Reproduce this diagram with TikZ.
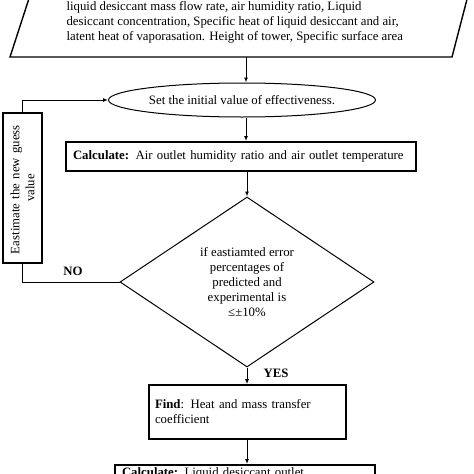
\documentclass[tikz,border=0pt]{standalone}
\usepackage{fontspec}
\setmainfont{Liberation Serif}
\usetikzlibrary{arrows.meta,calc,positioning,shapes.geometric}

\tikzset{
 flowline/.style={line width=1pt,-{Latex[length=5pt,width=4pt]}},
 plainline/.style={line width=1pt},
 thickbox/.style={draw,line width=2pt,inner sep=0pt},
 txt/.style={font=\fontsize{12.8}{15}\selectfont}
}

\begin{document}
\begin{tikzpicture}[x=1pt,y=-1pt]
 \useasboundingbox(0,0)rectangle(474,474);
 % input data (cut at the top)
 \draw[line width=1.4pt](35,-20)--(10,57)--(452,57)--(472,-20);
 \node[txt,align=left,anchor=west](inputs)at(63,22){liquid desiccant mass flow rate, air humidity ratio, Liquid\\desiccant concentration, Specific heat of liquid desiccant and air,\\latent heat of vaporasation. Height of tower, Specific surface area};
 \coordinate(inbot)at(246,57);
 \node[txt,draw,ellipse,line width=1pt,minimum width=267,minimum height=34,inner sep=0pt](init)at(242,100){Set the initial value of effectiveness.};
 \node[txt,thickbox,minimum width=350,minimum height=29,text width=336,align=left](calcair)at(241,156.5){\textbf{Calculate:} Air outlet humidity ratio and air outlet temperature};
 \node[txt,draw,diamond,line width=1pt,minimum width=254,minimum height=170,inner sep=0pt,align=center](check)at(247,282){if eastiamted error\\percentages of\\predicted and\\experimental is\\≤±10\%};
 \node[txt,draw,line width=1.6pt,minimum width=197,minimum height=54,text width=185,align=left,inner sep=0pt](find)at(247.5,412){\textbf{Find}: Heat and mass transfer\\coefficient};
 \node[txt,thickbox,minimum width=260,text width=246,inner xsep=6pt,inner ysep=3pt,align=left,anchor=north](calcliq)at(245,464){\textbf{Calculate:} Liquid desiccant outlet};
 \node[txt,thickbox,rotate=90,minimum width=150,minimum height=39,text width=132,align=center](guess)at(22.5,188){\makebox[132pt][s]{Eastimate the new guess}\\value};
 % connectors
 \draw[flowline](inbot)--(inbot|-init.north);
 \draw[flowline](init.south-|inbot)--(calcair.north-|inbot);
 \draw[flowline](calcair.south-|check.north)--(check.north);
 \draw[flowline](check.south)--(find.north-|check.south);
 \draw[flowline](find.south-|check.south)--(calcliq.north-|check.south);
 \draw[flowline](guess.east)|-(init.west);
 \draw[plainline](check.west)-|(guess.west);
 \node[txt,font=\fontsize{12.8}{15}\selectfont\bfseries](nolbl)at(73,271){NO};
 \node[txt,font=\fontsize{12.8}{15}\selectfont\bfseries](yeslbl)at(276,373){YES};
\end{tikzpicture}
\end{document}
